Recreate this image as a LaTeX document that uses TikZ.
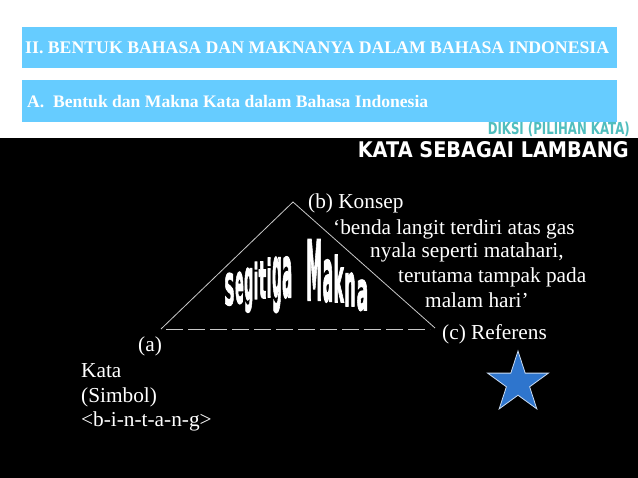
\documentclass[tikz,border=0pt]{standalone}
\usepackage{fontspec}
\usepackage{graphicx}
\setmainfont{Liberation Serif}
\newfontfamily\hdsans{DejaVu Sans}
\newfontfamily\wafont[BoldFeatures={FakeBold=3}]{DejaVu Sans}
\usetikzlibrary{shapes.geometric}
\definecolor{hdblue}{RGB}{102,204,255}
\definecolor{diksi}{RGB}{80,190,190}
\definecolor{starblue}{RGB}{46,117,205}
\definecolor{triline}{RGB}{200,200,200}
\begin{document}
\begin{tikzpicture}[x=1pt,y=-1pt,
  hdbox/.style={fill=hdblue, draw=none, inner sep=0pt, anchor=north west},
  hdtext/.style={text=white, inner sep=0pt, anchor=west},
  body/.style={text=white, inner sep=0pt, anchor=base west, font=\fontsize{21.3}{25}\selectfont},
  wa/.style={text=white, inner sep=0pt, anchor=base west},
  tri/.style={draw=triline, line width=0.8pt},
]
\useasboundingbox (0,0) rectangle (638,478);
\fill[white] (0,0) rectangle (638,478);
\fill[black] (0,138) rectangle (638,478);
% header boxes
\node[hdbox, minimum width=595, minimum height=41] (box1) at (22,27) {};
\node[hdbox, minimum width=595, minimum height=42] (box2) at (22,80) {};
\node[hdtext] (t1) at (25,48) {\resizebox{584pt}{!}{\bfseries II. BENTUK BAHASA DAN MAKNANYA DALAM BAHASA INDONESIA}};
\node[hdtext] (t2) at (27,102) {\resizebox{401pt}{!}{\bfseries A.\hspace{0.5em}Bentuk dan Makna Kata dalam Bahasa Indonesia}};
% top right labels
\node[inner sep=0pt, anchor=base east, text=diksi] (diksi) at (630,135) {\resizebox{142pt}{12.5pt}{\hdsans\bfseries DIKSI (PILIHAN KATA)}};
\node[inner sep=0pt, anchor=base east, text=white] (lambang) at (629,158) {\resizebox{271pt}{16pt}{\hdsans\bfseries KATA SEBAGAI LAMBANG}};
% triangle
\coordinate (apex) at (293,202);
\coordinate (baseL) at (161,329);
\coordinate (baseR) at (435,328);
\coordinate (dashL) at (166,329);
\coordinate (dashR) at (430,329);
\draw[tri] (baseL) -- (apex) -- (baseR);
\draw[tri, dash pattern=on 17pt off 5pt] (dashL) -- (dashR);
% word art
\foreach \nm/\ch/\x/\y/\w/\h in {
  w1/S/224/305/10.5/32, w2/e/235/303/8.5/31, w3/g/244/300/9/32,
  w4/i/253.5/299/4.5/37, w5/t/258.5/298/7.5/36, w6/i/266.5/297/5/39,
  w7/g/272/297/9.5/40, w8/a/282/297/10/40,
  w9/M/306/300/16/60, w10/a/322.5/301/10.5/41, w11/k/333.5/302/10/47,
  w12/n/344/306/11.5/33, w13/a/356.5/310/11.5/30}
  {\node[wa] (\nm) at (\x,\y) {\resizebox{\w pt}{\h pt}{\wafont\bfseries \ch}};}
% texts
\node[body] (konsep) at (308,209) {(b) Konsep};
\node[body] (d1) at (333,235) {‘benda langit terdiri atas gas};
\node[body] (d2) at (370,258) {nyala seperti matahari,};
\node[body] (d3) at (398,283) {terutama tampak pada};
\node[body] (d4) at (425,308) {malam hari’};
\node[body] (ref) at (442,340) {(c) Referens};
\node[body] (alabel) at (138,352) {(a)};
\node[body] (kata) at (81,378) {Kata};
\node[body] (simbol) at (81,403) {(Simbol)};
\node[body] (bintang) at (81,427) {<b-i-n-t-a-n-g>};
% star
\node[star, star points=5, star point ratio=2.618, minimum size=64, inner sep=0pt,
  fill=starblue, draw=white!75!starblue, line width=0.8pt] (star) at (518,383) {};
\end{tikzpicture}
\end{document}
